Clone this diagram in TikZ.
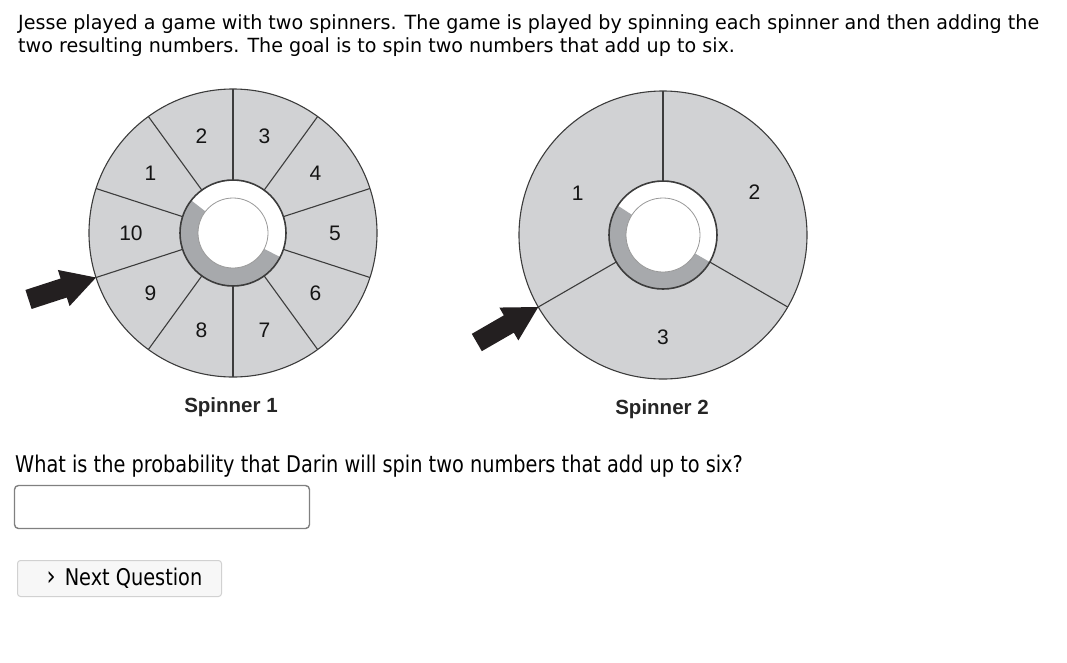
\documentclass[tikz,border=0pt]{standalone}
\usepackage{fontspec}
\setmainfont{DejaVu Sans}
\newfontfamily\webfont[FakeStretch=0.98]{DejaVu Sans}
\newfontfamily\narrowfont[FakeStretch=0.84]{DejaVu Sans}
\newfontfamily\figfont{Liberation Sans}
\usetikzlibrary{calc}
\definecolor{wedge}{HTML}{D1D2D4}
\definecolor{bandgray}{HTML}{A7A9AC}
\definecolor{rimgray}{HTML}{3C3C3C}
\definecolor{pointer}{HTML}{231F20}

\begin{document}
\begin{tikzpicture}[x=1pt, y=1pt,
  rim/.style={draw=rimgray, line width=1.1pt},
  num/.style={font=\figfont\fontsize{21}{21}\selectfont, text=black!92},
  caption/.style={font=\figfont\bfseries\fontsize{20.5}{20.5}\selectfont, text=black!85},
  webtext/.style={font=\webfont\fontsize{19.5}{23}\selectfont, anchor=base west, inner sep=0pt},
  narrowtext/.style={font=\narrowfont\fontsize{23}{23}\selectfont, anchor=base west, inner sep=0pt}]
  \useasboundingbox (0,0) rectangle (1067,-662);

  % question text
  \node[webtext] (title1) at (18,-29) {Jesse played a game with two spinners. The game is played by spinning each spinner and then adding the};
  \node[webtext] (title2) at (18,-52) {two resulting numbers. The goal is to spin two numbers that add up to six.};

  \coordinate (c1) at (233,-233);
  \coordinate (c2) at (663,-235);

  % spinner 1
  \begin{scope}[shift={(c1)}]
    \fill[wedge] (0,0) circle (144);
    \foreach \a in {90,126,...,414}
      \draw[rim] (\a:53) -- (\a:144);
    \draw[rim] (0,0) circle (144);
    \foreach \n [count=\i] in {5,4,3,2,1,10,9,8,7,6}
      \node[num] (s1n\n) at ({(\i-1)*36}:102) {\n};
  \end{scope}

  % spinner 2
  \begin{scope}[shift={(c2)}]
    \fill[wedge] (0,0) circle (144);
    \foreach \a in {90,210,330}
      \draw[rim] (\a:54) -- (\a:144);
    \draw[rim] (0,0) circle (144);
    \node[num] (s2n1) at (154:95) {1};
    \node[num] (s2n2) at (25:101) {2};
    \node[num] (s2n3) at (270:102) {3};
  \end{scope}

  % hubs
  \foreach \c/\ro/\ri/\sa/\ea in {c1/53/35/142/333, c2/54/37/147/330}{
    \begin{scope}[shift={(\c)}]
      \fill[white] (0,0) circle (\ro);
      \fill[bandgray] (\sa:\ro) arc[start angle=\sa, end angle=\ea, radius=\ro]
        -- (\ea:\ri) arc[start angle=\ea, end angle=\sa, radius=\ri] -- cycle;
      \draw[rim, line width=1.6pt] (0,0) circle (\ro);
      \draw[fill=white, draw=black!40, line width=0.8pt] (0,0) circle (\ri);
    \end{scope}
  }

  % pointers
  \coordinate (tip1) at ($(c1)+(198:144)$);
  \coordinate (tip2) at ($(c2)+(210:144)$);
  \foreach \t/\r in {tip1/18, tip2/30}
    \fill[pointer, shift={(\t)}, rotate=\r]
      (0,0) -- (-34,19) -- (-34,10) -- (-71,10) -- (-71,-10) -- (-34,-10) -- (-34,-19) -- cycle;

  \node[caption] (cap1) at (231,-407) {Spinner 1};
  \node[caption] (cap2) at (662,-409) {Spinner 2};

  \node[narrowtext] (ask) at (15,-472) {What is the probability that Darin will spin two numbers that add up to six?};

  \node[draw=black!50, line width=1.4pt, rounded corners=4pt, minimum width=295, minimum height=43] (answer) at (162,-507) {};

  \node[draw=black!18, fill=black!3, line width=1pt, rounded corners=3pt, minimum width=204, minimum height=36,
        font=\narrowfont\fontsize{23}{23}\selectfont] (nextq) at (119.5,-578.5) {\hspace{10pt}{\fontsize{27}{23}\selectfont ›}\hspace{9pt}Next Question};
\end{tikzpicture}
\end{document}
